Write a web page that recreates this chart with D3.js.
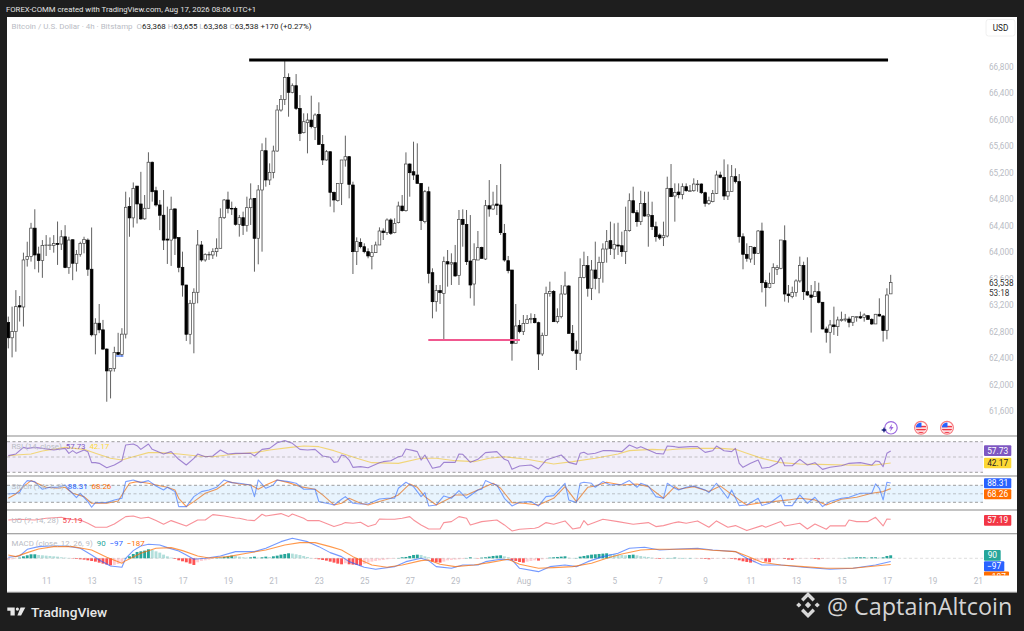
<!DOCTYPE html>
<html><head><meta charset="utf-8">
<script src="https://cdn.jsdelivr.net/npm/d3@7"></script>
<style>
html,body{margin:0;padding:0;background:#1e1e1e;overflow:hidden}
svg{display:block}
text{font-family:"Roboto","Liberation Sans",sans-serif}
</style></head><body>
<svg id="c" width="1024" height="631"></svg>
<script>
const opens=[62935,62705,62798,63190,63170,63890,63930,64360,63970,63870,
64100,64100,64100,64130,64120,64230,63765,64185,63830,63965,
64130,64180,63740,62750,62925,62825,62535,62205,62240,62485,
62455,62760,64685,64515,64995,64725,64500,64660,65355,64925,
64710,64555,64195,64180,64650,64217,63769,63502,62758,63226,
63392,64106,63880,63955,63955,64005,64056,64518,64785,64659,
64659,64418,64518,64398,64669,64810,64207,64936,65529,65087,
65202,65524,66143,66304,66636,66410,66510,66168,65801,65952,
65992,65881,66078,65625,65389,65514,64901,64775,65036,65389,
65439,65011,64005,64146,64080,64005,63930,63990,64106,64317,
64292,64483,64292,64443,64694,64624,65328,65212,65162,65036,
64458,64910,63688,63250,63417,63376,63854,63819,63839,63648,
64493,64417,63864,63517,63879,64070,63894,64699,64649,64724,
64709,64282,63869,63728,62622,62893,62798,62923,62984,62999,
62933,62461,62742,63376,63406,62948,63024,63366,63487,62772,
62521,62471,63617,63794,63452,63728,63602,63844,64045,64171,
64045,64105,64095,64005,64322,64774,64593,64458,64734,64543,
64553,64382,64256,64216,64241,64961,64845,64905,64870,64986,
64920,64925,65016,65026,64895,64734,64760,64885,65162,65127,
64845,64911,65137,65062,64231,63965,63894,64066,63980,64317,
63537,63462,63527,63739,63754,64171,63366,63326,63391,63563,
63794,63401,63351,63326,63401,63241,62838,62788,62899,62873,
62964,62974,62989,62939,63014,63024,63014,63039,62984,62914,
63060,63034,62818,63368];
const highs=[63025,63175,63425,63336,63990,64155,64440,64645,64080,64180,
64255,64220,64255,64460,64330,64405,64230,64190,64030,64155,
64230,64205,64370,63000,63215,62975,62545,62245,62570,62780,
62850,64910,64825,65050,64995,65210,64860,65505,65365,64985,
64785,64935,64685,64835,64660,64217,64005,63502,63276,63452,
64332,64166,63980,64005,64056,64206,64659,64800,64911,64760,
64684,64559,64609,64835,65036,64810,65011,65640,65725,65338,
65605,66219,66369,66882,66696,66545,66686,66369,66093,66093,
66359,66093,66259,65766,65539,65514,64911,65036,65389,65756,
65449,65061,64221,64206,64131,64055,64106,64156,64372,64357,
64508,64508,64508,64760,64860,65504,65338,65665,65640,65036,
64936,64986,63754,63502,63502,63930,64030,63980,64106,64634,
64644,64634,64558,64131,64317,64080,64785,65086,64910,65011,
65328,64423,63940,63728,63215,62974,63049,63049,63074,63064,
62948,62783,63477,63552,63426,63150,63502,63703,63502,62898,
62662,63904,64005,63939,63879,64156,63929,64131,64332,64458,
64432,64442,64307,64684,64885,64986,64634,64925,64910,64910,
64759,64458,64281,64458,65137,65328,65036,65036,65036,65036,
65011,65112,65086,65036,64910,64835,64936,65227,65212,65398,
65323,65313,65263,65177,64282,64131,64081,64081,64332,64443,
63578,63688,63829,63804,64181,64402,63502,63477,63588,63930,
63854,63920,63502,63562,63537,63241,62873,62974,63175,63024,
63100,63065,63024,63024,63024,63100,63075,63049,63000,63065,
63301,63049,63452,63655];
const lows=[62545,62410,62495,62950,62875,63780,63855,63740,63690,63610,
63940,64030,63990,63805,64030,63755,63670,63575,63705,63930,
63980,63640,62725,62455,62775,62520,61740,61790,62195,62445,
62420,62695,64230,64370,64430,64485,64485,64660,64760,64685,
64330,64030,63820,63790,63955,63694,63326,62657,62607,62471,
63226,63854,63854,63880,63895,63930,64056,64498,64584,64559,
64398,64232,64257,64307,64408,63703,63814,64005,64986,65011,
65112,65514,66118,66219,66042,66395,66143,65675,65791,65489,
65866,65690,65615,65313,65378,64684,64599,64760,64709,65288,
64810,63668,63804,64055,63980,63905,63738,63990,64106,64181,
64257,64257,64282,64432,64609,64609,64835,65087,65036,64332,
64432,63527,62999,63100,63215,62672,63477,63502,63628,63502,
64080,63804,63301,63190,63879,63904,63879,64533,64634,64558,
64257,63854,63678,62360,62622,62773,62747,62923,62923,62923,
62219,62430,62732,63326,62948,62923,62999,63351,62772,62496,
62219,62360,63602,63326,63275,63436,63376,63537,63839,63955,
63894,63955,63929,63819,64307,64583,64382,64407,64533,64080,
64332,64156,64181,64090,64221,64835,64458,64810,64795,64910,
64910,64910,64910,64875,64684,64709,64750,64875,65112,64785,
64785,64911,65036,64141,63739,63854,63839,63804,63970,63391,
63175,63452,63527,63653,63739,63251,63236,63301,63326,63537,
63276,63336,62783,63326,63225,62833,62632,62471,62748,62733,
62949,62949,62863,62883,62949,62989,62949,62974,62899,62914,
63024,62647,62682,63368];
const closes=[62705,62798,63175,63170,63880,63930,64360,63955,63870,64100,
64105,64105,64130,64115,64230,63765,64180,63830,63965,64130,
64190,63740,62750,62925,62825,62535,62205,62240,62485,62455,
62760,64675,64515,64960,64725,64500,64660,65355,64910,64710,
64555,64180,64180,64645,64207,63769,63502,62758,63226,63392,
64106,63880,63965,63965,64005,64056,64518,64785,64659,64649,
64418,64518,64398,64669,64800,64207,64936,65529,65087,65202,
65524,66143,66304,66636,66410,66510,66168,65791,65967,65992,
65892,66068,65625,65389,65514,64901,64785,65036,65389,65439,
65021,64005,64156,64080,64005,63940,63990,64106,64317,64292,
64483,64282,64432,64694,64624,65328,65197,65162,65036,64473,
64910,63678,63250,63417,63386,63854,63819,63839,63638,64493,
64417,63854,63502,63889,64065,63904,64699,64649,64709,64704,
64292,63879,63718,62622,62883,62798,62923,62984,62994,62933,
62461,62742,63376,63406,62948,63024,63366,63487,62772,62511,
62471,63617,63794,63452,63728,63602,63844,64045,64156,64055,
64115,64090,64005,64322,64774,64593,64458,64734,64543,64563,
64382,64231,64211,64246,64961,64835,64900,64865,64986,64925,
64925,65026,65026,64895,64734,64774,64885,65162,65127,64845,
64911,65137,65062,64231,63965,63905,64081,63980,64317,63537,
63462,63527,63764,63764,64181,63366,63341,63391,63563,63794,
63401,63351,63316,63401,63241,62838,62788,62899,62873,62974,
62984,62989,62939,63024,63024,63004,63049,62984,62914,63060,
63034,62813,63351,63538];

const priceTicks=[61600,62000,62400,62800,63200,63600,64000,64400,64800,65200,65600,66000,66400,66800];
const dayLabels=["11","13","15","17","19","21","23","25","27","29","Aug","3","5","7","9","11","13","15","17","19","21"];
const dayBars=[10,22,34,46,58,70,82,94,106,118,136,148,160,172,184,196,208,220,232,244,256];

const rsiBars=[0,2,3,4,5,7,9,12,15,16,17,18,20,21,22,23,24,26,28,30,31,33,34,35,37,38,41,43,45,47,49,50,52,54,56,58,60,64,65,67,69,71,73,75,77,79,81,83,85,86,87,88,89,90,91,93,95,98,99,101,103,104,105,107,108,109,110,112,114,115,118,119,120,122,124,126,129,131,132,133,135,138,140,142,146,148,150,151,152,153,155,157,159,162,164,166,167,169,171,173,174,176,177,180,182,184,186,187,189,191,192,193,194,196,198,199,201,203,204,205,207,209,211,213,215,217,220,222,225,228,229,230,231,232,233];
const rsiValues=[51.8,54,58.3,62.6,61.3,62.6,61.3,59.2,61.3,54.8,58.3,54.8,59.2,57,42.6,42.6,41.7,36,39.5,45.2,65.7,67,64.8,60,67,60,53.9,57,47,39.5,48.3,53.9,50.4,51.3,59.2,53.9,54.8,54.8,51.3,60,61.3,68.7,71.4,67.9,60,59.2,60,51.3,49.6,43,43.9,52.6,51.3,46,36.5,37.4,36,42.6,43.9,45.2,50.4,51.3,60.5,58.3,57,46,52.6,35.2,37.4,43,43,53.9,53.5,43,47,55.7,57,47,45.2,33.9,38.2,39.5,34.3,46,52.6,43,40.4,54.8,56.1,53.5,54.8,58.3,58.3,57,65.7,61.3,63.5,59.2,54.8,53.9,64.4,63.5,62.6,63.5,63.5,56,58.2,64.3,58.2,57,61.3,41.7,36.5,41.7,46,35.2,36.5,41.7,49.5,38.6,38.6,46.9,39.5,42.6,33.8,36.5,38.6,41.7,42.6,39.5,44.7,43.9,37.3,54.8,57.73];
const rsiMaBars=[0,2,6,9,15,20,23,27,30,33,37,40,45,50,54,60,65,69,74,78,82,86,88,92,96,103,109,113,118,123,127,131,137,144,149,155,161,164,170,174,177,182,188,192,195,199,204,209,214,221,228,231,233];
const rsiMaValues=[51.3,52.6,54,57.9,62.6,60,54.8,48.3,46.1,50.4,55.7,55.7,53.9,51.3,50.4,53.9,55.7,59.2,62.2,64.4,63.5,58.3,54.8,48.3,42.6,41.7,48.3,48.3,45.2,43.9,48.3,50.4,47,40.9,43.9,48.3,53.9,58.3,60,59.2,60.5,61.3,61.3,60,54.8,48.2,42.6,40.8,40.4,39.5,39,40.8,42.17];

const stochKBars=[0,2,3,4,5,7,8,9,11,13,15,16,18,19,21,22,23,26,28,30,31,33,35,37,39,41,42,44,45,47,49,51,53,55,57,59,61,64,65,66,68,70,71,74,76,78,81,82,85,86,88,89,91,93,95,98,100,102,103,105,107,109,110,111,113,115,117,119,121,124,125,126,128,129,131,133,135,138,140,142,144,147,148,150,151,152,154,155,157,159,162,164,166,167,169,171,173,174,176,177,179,181,184,185,187,189,190,191,193,195,198,199,201,204,205,207,209,211,213,215,217,220,222,225,228,229,230,231,232,233];
const stochKValues=[49.5,51.9,54.2,81.3,96.6,93,77.7,66,73,73,81.3,63.6,36.6,51.9,22.5,2.5,18.9,18.9,28.3,34.2,93,98.9,89.5,96.6,77.7,63.6,73,57.7,4.8,4.8,40.1,57.7,63.6,73,98.9,89.5,87.2,81.3,40.1,98.9,69.5,81.3,98.9,93,87.2,66,66,22.5,14.2,10.7,30.7,40.1,16.6,14.2,14.2,31.9,34.2,34.2,69.5,90.7,75.4,40.1,54.2,7.2,10.7,42.4,34.2,61.3,34.2,63.6,66,96.6,84.8,81.3,34.2,7.2,20,22.5,7.2,40.1,43.6,87.2,28.3,18.9,87.2,90.7,87.2,73,93,81.3,83.6,96.6,73,87.2,77.7,40.1,34.2,87.2,69.5,63.6,73,77.8,63.7,54.3,87.2,51.9,34.3,63.7,8.4,10.7,34.3,8.4,16.6,46,8.4,8.4,46,16.6,37.8,4.9,22.5,34.3,37.8,51.9,51.9,84.8,69.5,28.4,90.7,88.31];
const stochDBars=[0,2,4,6,8,10,13,15,17,20,22,26,29,30,32,34,37,39,42,44,45,47,49,52,55,58,61,64,66,68,71,74,77,81,83,86,88,90,93,95,98,101,103,106,108,110,113,116,118,121,125,128,130,133,136,140,144,147,150,153,155,158,162,166,169,173,176,177,181,185,188,190,193,195,199,202,206,209,213,216,220,224,228,231,233];
const stochDValues=[34.2,49.5,75.4,96.6,84.8,73,69.5,73,51.9,40.1,16.6,16.6,24.8,46,87.2,93,87.2,81.3,73,63.6,34.2,4.8,22.5,51.9,66,93,84.8,81.3,66,81.3,98.9,89.5,75.4,66,46,10.7,16.6,34.2,16.6,10.7,22.5,34.2,46,84.8,73,40.1,10.7,30.7,46,46,69.5,87.2,69.5,18.9,16.6,10.7,34.2,75.4,22.5,73,77.7,90.7,81.3,84.8,75.4,34.2,75.4,66,75.4,57.8,77.8,57.8,28.4,10.7,19,22.5,28.4,34.3,28.4,10.7,30.7,37.8,51.9,57.8,68.26];

const uoBars=[0,3,7,10,14,16,19,21,23,26,28,31,33,35,37,39,41,43,47,50,52,54,57,60,61,63,65,67,68,72,74,75,78,79,82,85,86,88,89,91,93,95,97,98,100,102,104,106,107,109,111,114,115,117,119,121,122,125,129,131,133,135,139,140,142,144,147,149,151,152,153,157,161,165,169,171,173,176,177,179,182,185,187,190,192,195,199,200,204,205,209,211,213,216,217,221,222,224,227,229,231,232,233];
const uoValues=[55.7,57.2,55.7,59.4,61.6,57.2,55.7,48.3,39.4,39.4,46.8,63.1,64.6,59.4,61.6,54.2,46.1,54.2,42.4,55.7,55.7,67.6,64.6,60.1,59.4,55.7,54.2,68.3,64.6,69.8,63.1,69,59.4,54.2,54.2,44.6,40.9,46.1,49.8,48.3,50.5,40.9,46.1,57.9,57.2,57.2,59.4,63.1,55.7,44.6,35.7,35.7,49.8,52,63.1,59.4,44.6,52,55.7,44.6,31.3,35,37.2,39.4,49.8,46.1,53.5,35.7,38.7,54.2,44.6,57.2,52,46.1,49.8,40.9,43.1,49.8,51.3,48.3,53.5,39.4,53.5,39.4,43.1,32,43.1,39.4,52,42.4,48.3,35.7,46.8,35,42.4,42.4,55.7,52,52,61.6,42.4,57.9,57.19];

const macdBars=[0,3,5,8,11,15,19,22,24,27,30,31,33,35,37,40,42,45,47,49,52,56,60,65,68,72,75,79,82,85,88,90,94,97,102,105,109,111,113,117,120,124,126,130,133,135,140,143,147,150,153,157,161,164,168,172,177,182,186,192,195,199,204,210,217,223,229,233];
const macdValues=[30,70,270,350,370,370,300,100,-50,-230,-270,0,230,370,420,400,320,220,100,-30,0,70,200,200,300,500,600,500,350,170,50,-100,-270,-330,-250,-100,0,-70,-250,-300,-200,-200,-100,-30,-50,-300,-400,-250,-200,-250,-100,50,150,300,330,250,280,300,250,200,0,-200,-200,-270,-330,-300,-200,-97];
const signalBars=[0,2,5,8,12,17,22,26,30,31,35,39,43,46,50,53,58,63,68,73,77,81,85,88,91,96,100,104,109,111,114,118,123,127,132,135,140,144,149,154,158,162,167,171,177,182,186,192,195,199,204,210,216,223,229,233];
const signalValues=[100,50,170,280,350,350,250,30,-150,-70,150,300,320,230,70,10,50,150,250,400,470,470,350,250,50,-200,-270,-200,-70,-50,-180,-250,-200,-130,-30,-180,-300,-280,-250,-150,0,130,250,270,270,280,240,200,70,-120,-200,-250,-300,-300,-230,-187];
const histValues=[-50,-30,-10,20,60,90,120,120,100,90,
80,70,60,50,30,20,10,-10,-20,-30,
-40,-60,-80,-100,-130,-160,-190,-210,-200,-170,
-120,10,60,130,190,210,230,270,250,210,
170,110,60,20,-20,-60,-90,-120,-160,-200,
-120,-80,-60,-40,-20,10,20,40,60,80,
70,50,30,20,30,50,20,30,50,40,
60,80,110,130,150,140,120,100,70,40,
10,-10,-30,-50,-70,-100,-130,-160,-180,-150,
-180,-190,-200,-220,-170,-130,-100,-80,-60,-50,
-30,-20,-10,10,30,40,70,100,110,100,
60,30,-100,-120,-130,-100,-60,-50,-40,-30,
-20,10,30,10,-10,20,30,50,70,80,
90,60,30,-60,-80,-110,-130,-100,-80,-60,
-70,-30,-10,20,30,40,50,60,20,10,
10,50,70,90,110,120,130,140,150,130,
120,110,100,90,100,110,90,70,50,40,
20,-10,-20,-10,10,10,20,10,10,5,
10,5,-5,-10,-20,-30,-20,-10,-5,-10,
-10,-20,-30,-60,-90,-110,-130,-120,-60,-50,
-100,-120,-50,-30,-10,-20,-40,-50,-20,-10,
-10,-10,-10,-20,-30,-20,-10,-5,-5,-5,
5,10,20,20,30,30,30,20,30,30,
20,30,70,90];

const resistancePrice=66898, resistanceBars=[63.6,232.3];
const supportPrice=62673, supportBars=[110.9,135.1];
const markerPrice=62430, markerBars=[28.4,30.4];

const svg=d3.select("#c");
const W=1024,H=631,L=7,R=1017,T=17,B=592.5,AX=983;
svg.append("rect").attr("width",W).attr("height",H).attr("fill","#1e1e1e");
svg.append("rect").attr("x",L).attr("y",T).attr("width",R-L).attr("height",B-T).attr("fill","#fff");

const x=d3.scaleLinear().domain([0,233]).range([8.3,890.7]);
const y=d3.scaleLinear().domain([66800,61600]).range([66.5,411]);
const rsiY=d3.scaleLinear().domain([70,30]).range([441.7,472.3]);
const stochY=d3.scaleLinear().domain([80,20]).range([485.3,502.3]);
const uoY=d3.scaleLinear().domain([70,30]).range([513.5,531.5]);
const macdY=d3.scaleLinear().domain([600,-600]).range([538.3,578.3]);

const clip=svg.append("defs");
clip.append("clipPath").attr("id","plot").append("rect").attr("x",L).attr("y",T).attr("width",AX-L).attr("height",B-T);
clip.append("clipPath").attr("id","macdLab").append("rect").attr("x",AX).attr("y",534).attr("width",40).attr("height",41.5);

const grid=d3.range(opens.length);
const gc=svg.append("g").attr("clip-path","url(#plot)");
gc.selectAll("line.w").data(grid).join("line").attr("class","w")
 .attr("x1",i=>x(i)).attr("x2",i=>x(i)).attr("y1",i=>y(highs[i])).attr("y2",i=>y(lows[i]))
 .attr("stroke","#5a5a5a").attr("stroke-width",0.95);
gc.selectAll("rect.b").data(grid).join("rect").attr("class","b")
 .attr("x",i=>x(i)-1.35).attr("width",2.7)
 .attr("y",i=>y(Math.max(opens[i],closes[i])))
 .attr("height",i=>Math.max(0.6,Math.abs(y(opens[i])-y(closes[i]))))
 .attr("fill",i=>closes[i]>=opens[i]?"#fff":"#000")
 .attr("stroke",i=>closes[i]>=opens[i]?"#444":"#000").attr("stroke-width",0.7);

const seg=(g,bars,price,col,w)=>g.append("line").attr("x1",x(bars[0])).attr("x2",x(bars[1])).attr("y1",y(price)).attr("y2",y(price)).attr("stroke",col).attr("stroke-width",w);
seg(gc,resistanceBars,resistancePrice,"#000",3);
seg(gc,supportBars,supportPrice,"#f0588f",2);
seg(gc,markerBars,markerPrice,"#2962ff",1);

// event icons
const ev=svg.append("g");
const flag=(cx,cy)=>{const g=ev.append("g").attr("transform",`translate(${cx},${cy})`);
 g.append("circle").attr("r",6.4).attr("fill","#fff").attr("stroke","#f77c80").attr("stroke-width",1.2);
 g.append("clipPath").attr("id","f"+cx).append("circle").attr("r",5.2);
 const i=g.append("g").attr("clip-path",`url(#f${cx})`);
 [-2,1,4].forEach(d=>i.append("rect").attr("x",-6).attr("y",d).attr("width",12).attr("height",1.6).attr("fill","#f23645"));
 i.append("rect").attr("x",-6).attr("y",-6).attr("width",6.5).attr("height",5.5).attr("fill","#2962ff");
};
flag(921,427.8);flag(947,427.8);
const bg=ev.append("g").attr("transform","translate(891,427.8)");
bg.append("circle").attr("r",6.2).attr("fill","#fff").attr("stroke","#9c6ade").attr("stroke-width",1.2);
bg.append("path").attr("d","M1.2,-4L-2.2,0.6H0L-1,4L2.6,-0.8H0.4Z").attr("fill","#9c6ade");
ev.append("path").attr("d","M884,427l.9,2.1 2.1,.9 -2.1,.9 -.9,2.1 -.9,-2.1 -2.1,-.9 2.1,-.9Z").attr("fill","#1a237e");

// panes
const pane=(y0,y1,col)=>svg.append("rect").attr("x",L).attr("y",y0).attr("width",AX-L).attr("height",y1-y0).attr("fill",col);
pane(rsiY(70),rsiY(30),"#7e57c2").attr("fill-opacity",0.1);
pane(stochY(80),stochY(20),"#2196f3").attr("fill-opacity",0.1);
const dash=(yy)=>svg.append("line").attr("x1",L).attr("x2",AX).attr("y1",yy).attr("y2",yy).attr("stroke","#888").attr("stroke-width",0.8).attr("stroke-dasharray","3 2.5");
[70,50,30].forEach(v=>dash(rsiY(v)).attr("stroke-opacity",v==50?0.6:1));
[80,50,20].forEach(v=>dash(stochY(v)).attr("stroke-opacity",v==50?0.6:1));
dash(macdY(0)).attr("stroke-opacity",0.35);

// histogram
gc.selectAll("rect.h").data(histValues).join("rect").attr("class","h")
 .attr("x",(d,i)=>x(i)-1.45).attr("width",2.9)
 .attr("y",d=>Math.min(macdY(d),macdY(0)))
 .attr("height",d=>Math.abs(macdY(d)-macdY(0)))
 .attr("fill",(d,i)=>{const p=i?histValues[i-1]:d;return d>=0?(d>=p?"#26a69a":"#b2dfdb"):(d<p?"#ff5252":"#ffcdd2");});

const drawLine=(bars,vals,sc,col,w=1,op=1)=>gc.append("path")
 .attr("d",d3.line().x(i=>x(bars[i])).y(i=>sc(vals[i]))(d3.range(bars.length)))
 .attr("fill","none").attr("stroke",col).attr("stroke-width",w).attr("stroke-opacity",op).attr("stroke-linejoin","round");
drawLine(rsiMaBars,rsiMaValues,rsiY,"#fdd835",1.1,0.7);
drawLine(rsiBars,rsiValues,rsiY,"#7e57c2",1.1,0.7);
drawLine(stochDBars,stochDValues,stochY,"#ff6d00",1.1,0.7);
drawLine(stochKBars,stochKValues,stochY,"#2962ff",1.1,0.6);
drawLine(uoBars,uoValues,uoY,"#f23645",1.1,0.55);
drawLine(macdBars,macdValues,macdY,"#2962ff",1.1,0.65);
drawLine(signalBars,signalValues,macdY,"#ff6d00",1.1,0.7);

// separators
[436,476,510,533.7,592.3].forEach(v=>svg.append("line").attr("x1",L).attr("x2",R).attr("y1",v).attr("y2",v).attr("stroke","#8a8a8a").attr("stroke-width",1.1));

const GRAY="#b9bcc4";
// price axis
const ya=svg.append("g").attr("transform",`translate(989,0)`).call(d3.axisRight(y).tickValues(priceTicks).tickSize(0).tickPadding(0).tickFormat(d3.format(",")));
ya.select(".domain").remove();
ya.selectAll("text").attr("fill",GRAY).style("font-size","8.2px").attr("x",0);
// time axis
const xa=svg.append("g").attr("transform",`translate(0,578)`).call(d3.axisBottom(x).tickValues(dayBars).tickSize(0).tickPadding(0).tickFormat((d,i)=>dayLabels[i]));
xa.select(".domain").remove();
xa.selectAll("text").attr("fill",GRAY).style("font-size","8.2px");

const txt=(s,xx,yy,col,size=8.2,anchor="start",extra={})=>{const t=svg.append("text").attr("x",xx).attr("y",yy).attr("fill",col).attr("font-size",size).attr("text-anchor",anchor).text(s);Object.entries(extra).forEach(([k,v])=>t.attr(k,v));return t;};

// last price
svg.append("rect").attr("x",985).attr("y",278.5).attr("width",31).attr("height",19).attr("fill","#fff");
txt("63,538",989,286,"#333");
txt("53:18",989,295.5,"#333");

// header
txt("FOREX-COMM created with TradingView.com, Aug 17, 2026 08:06 UTC+1",6,12,"#e4e4e4",7.75);
const lg=svg.append("text").attr("x",11.5).attr("y",29).attr("font-size",7.95);
[["Bitcoin / U.S. Dollar · 4h · Bitstamp  ",GRAY],["O",GRAY],["63,368 ","#222"],["H",GRAY],["63,655 ","#222"],["L",GRAY],["63,368 ","#222"],["C",GRAY],["63,538 ","#222"],["+170 (+0.27%)","#222"]].forEach(([s,c])=>lg.append("tspan").attr("fill",c).attr("xml:space","preserve").text(s));
svg.append("rect").attr("x",986).attr("y",19.5).attr("width",29).attr("height",16.5).attr("rx",2.5).attr("fill","#fff").attr("stroke","#f0f0f0");
txt("USD",1000.5,31,"#222",8.2,"middle");

// pane legends
const multi=(xx,yy,parts)=>{const t=svg.append("text").attr("x",xx).attr("y",yy).attr("font-size",7.9);parts.forEach(([s,c])=>t.append("tspan").attr("fill",c).attr("xml:space","preserve").text(s));};
multi(11.5,449,[["RSI (14, close)  ",GRAY],["57.73  ","#7e57c2"],["42.17","#fdd835"]]);
multi(11.5,489,[["Stoch (14, 1, 3)  ",GRAY],["88.31  ","#2962ff"],["68.26","#ff6d00"]]);
multi(11.5,523,[["UO (7, 14, 28)  ",GRAY],["57.19","#f23645"]]);
multi(11.5,546,[["MACD (close, 12, 26, 9)  ",GRAY],["90  ","#26a69a"],["\u221297  ","#2962ff"],["\u2212187","#ff6d00"]]);

// value badges
const badge=(s,y0,h,w,fill,col,parent=svg)=>{parent.append("rect").attr("x",984).attr("y",y0).attr("width",w).attr("height",h).attr("rx",1).attr("fill",fill);
 parent.append("text").attr("x",984+w/2).attr("y",y0+h/2+3).attr("font-size",8.4).attr("text-anchor","middle").attr("fill",col).text(s);};
badge("57.73",445.3,10.8,27.3,"#7e57c2","#fff");
badge("42.17",457.7,10.6,27.3,"#fdd835","#222");
badge("88.31",478.3,10,27.3,"#2962ff","#fff");
badge("68.26",489.3,10,27.3,"#ff6d00","#fff");
badge("57.19",515,10.7,27.3,"#f23645","#fff");
const ml=svg.append("g").attr("clip-path","url(#macdLab)");
badge("\u2212187",571.6,10,25,"#ff6d00","#fff",ml);
badge("\u221297",561.3,10,20.3,"#2962ff","#fff",ml);
badge("90",550,10.7,16.7,"#26a69a","#fff",ml);

// TradingView logo
svg.append("path").attr("transform","translate(7.3,604.3) scale(0.53)").attr("fill","#e8e8e8")
 .attr("d","M14 6H0v6h6v9h8V6Zm12 15h-7l6-15h9l-8 15Zm-7-9a3 3 0 1 0 0-6 3 3 0 0 0 0 6Z");
txt("TradingView",31,617,"#e8e8e8",13.7,"start",{"font-weight":500});

// watermark
const wm=svg.append("g").attr("transform","translate(808,605)").attr("fill","#d8d8d8");
[[0,0,3.2],[-9.2,0,2.6],[9.2,0,2.6]].forEach(([a,b,r])=>wm.append("path").attr("d",`M${a},${b-r}L${a+r},${b}L${a},${b+r}L${a-r},${b}Z`));
wm.append("path").attr("d","M0,-13L7,-6L4.6,-3.6L0,-8.2L-4.6,-3.6L-7,-6Z");
wm.append("path").attr("d","M0,13L7,6L4.6,3.6L0,8.2L-4.6,3.6L-7,6Z");
txt("@ CaptainAltcoin",827,614.5,"#d4d4d4",23.4,"start",{style:'font-family:"Open Sans","Noto Sans",sans-serif'});
</script>
</body></html>
